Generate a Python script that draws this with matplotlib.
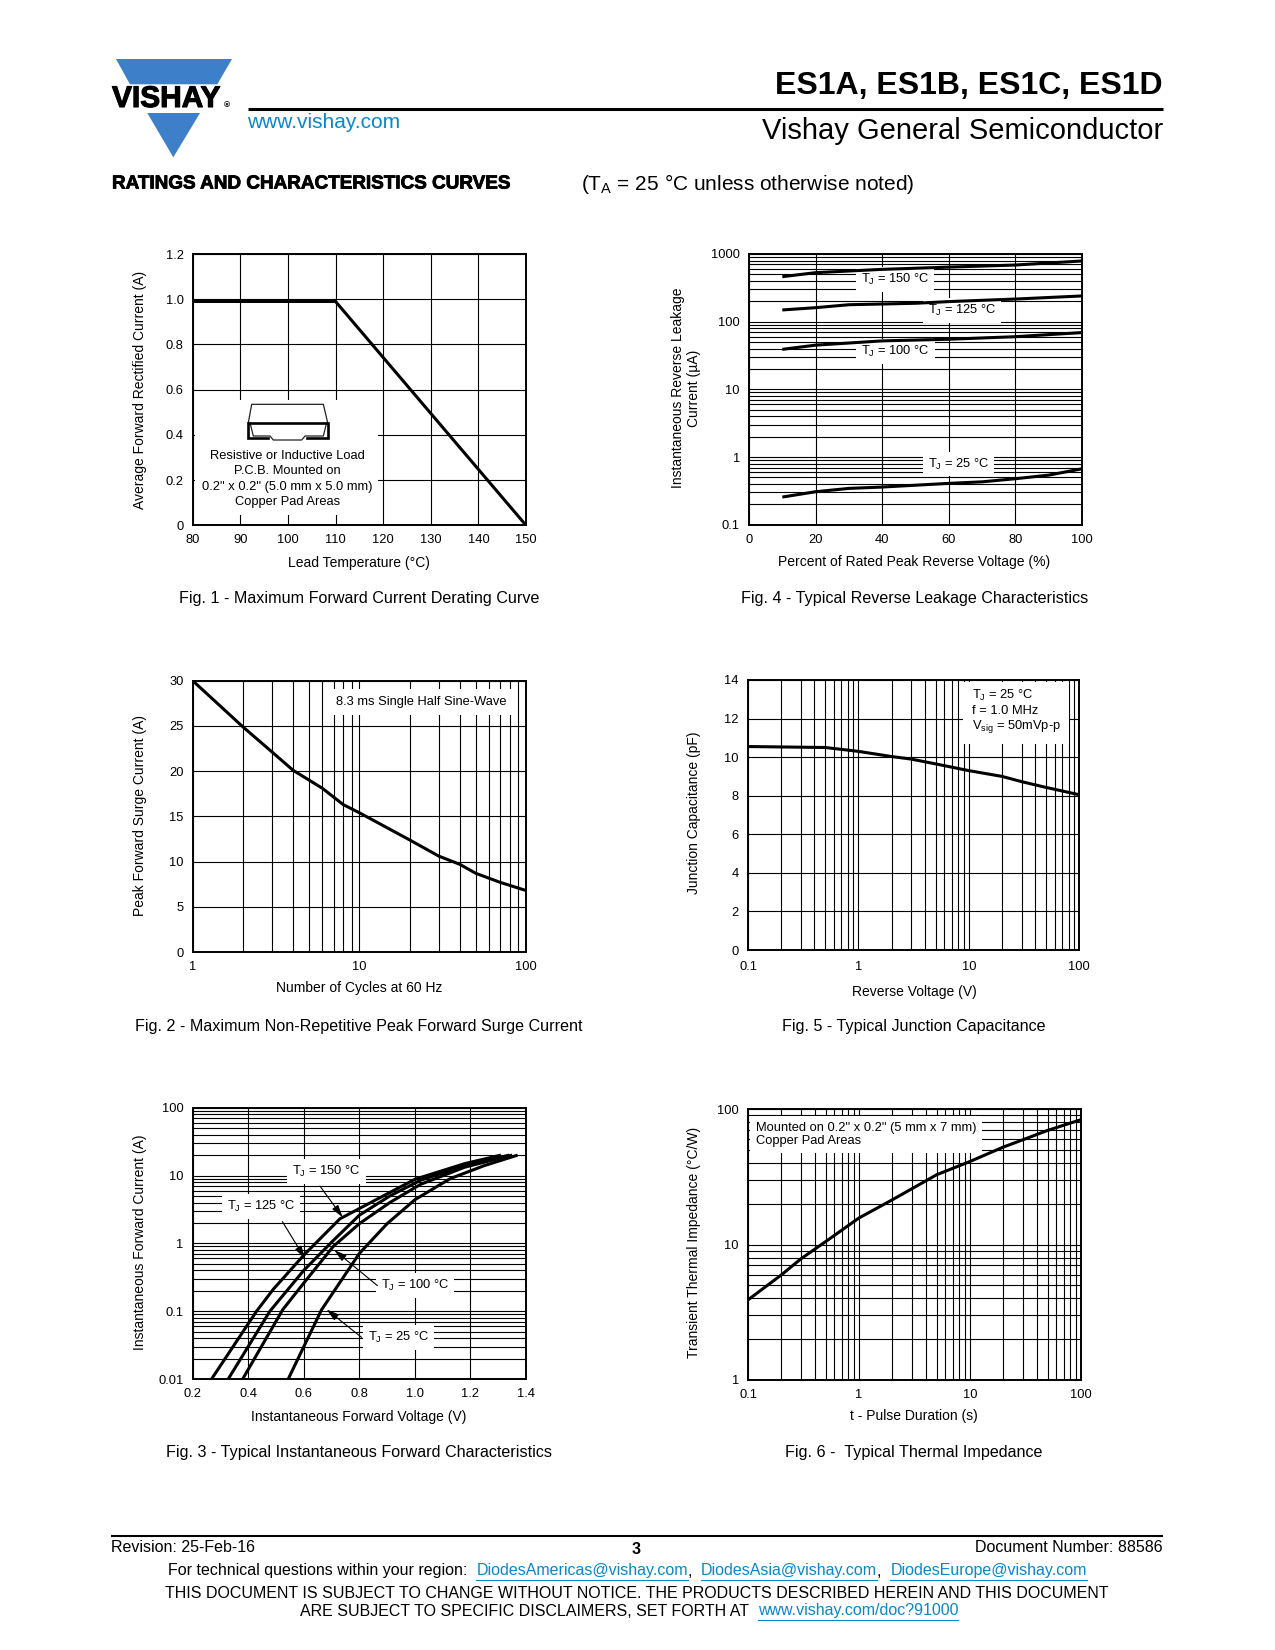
import numpy as np
import matplotlib
matplotlib.use('Agg')
import matplotlib.pyplot as plt
from matplotlib.patches import Polygon, Rectangle
from matplotlib.ticker import LogLocator, NullFormatter
import matplotlib.patheffects as pe

plt.rcParams['font.family'] = ['Liberation Sans', 'DejaVu Sans']
plt.rcParams['mathtext.fontset'] = 'custom'
plt.rcParams['mathtext.rm'] = 'Liberation Sans'
plt.rcParams['mathtext.default'] = 'rm'

W, H = 1275, 1650
BLUE = '#3d7fc8'
LINK = '#0a86cc'

# fig 1
derate_x = [80, 110, 150]
derate_y = [0.99, 0.99, 0]
# fig 2
surge_x = [1, 2, 3, 4, 5, 6, 8, 10, 20, 30, 40, 50, 70, 100]
surge_y = [30, 24.9, 22.1, 20.1, 19.0, 18.1, 16.3, 15.4, 12.4, 10.6, 9.7, 8.7, 7.7, 6.8]
# fig 3
vf_150_x = [0.268, 0.43, 0.49, 0.6, 0.73, 0.886, 1.0, 1.18, 1.31]
vf_150_y = [0.01, 0.1, 0.21, 0.67, 2.3, 5, 8.8, 15, 20]
vf_125_x = [0.328, 0.478, 0.6, 0.706, 0.80, 0.91, 1.02, 1.18, 1.34]
vf_125_y = [0.01, 0.1, 0.40, 1.1, 2.6, 5, 8.5, 14, 20]
vf_100_x = [0.38, 0.524, 0.6, 0.706, 0.80, 0.91, 1.02, 1.18, 1.35]
vf_100_y = [0.01, 0.105, 0.26, 0.9, 1.95, 4, 7.4, 13.3, 20]
vf_25_x = [0.544, 0.6, 0.664, 0.80, 0.9, 1.0, 1.127, 1.25, 1.37]
vf_25_y = [0.01, 0.03, 0.105, 0.71, 1.95, 4.4, 9, 14, 20]
# fig 4
leak_150_x = [10, 20, 40, 60, 80, 100]
leak_150_y = [462, 530, 593, 640, 687, 789]
leak_125_x = [10, 20, 30, 50, 60, 80, 100]
leak_125_y = [149, 161, 178, 187, 198, 216, 240]
leak_100_x = [10, 20, 40, 60, 80, 100]
leak_100_y = [39, 45, 52, 55, 60, 69]
leak_25_x = [10, 20, 30, 40, 60, 70, 80, 90, 100]
leak_25_y = [0.256, 0.307, 0.344, 0.36, 0.408, 0.43, 0.478, 0.54, 0.67]
# fig 5
cap_x = [0.1, 0.5, 1, 2, 3, 5, 10, 20, 30, 50, 100]
cap_y = [10.55, 10.5, 10.3, 10.03, 9.9, 9.65, 9.3, 9.0, 8.73, 8.43, 8.05]
# fig 6
therm_x = [0.1, 0.2, 0.3, 0.5, 1, 2, 3, 5, 10, 20, 30, 50, 100]
therm_y = [3.9, 5.97, 7.84, 10.5, 15.7, 21.4, 25.8, 32.7, 41, 52.4, 59.3, 69.5, 83.4]

fig = plt.figure(figsize=(W / 100, H / 100), dpi=100)
page = fig.add_axes([0, 0, 1, 1], zorder=5)
page.set_xlim(0, W)
page.set_ylim(H, 0)
page.axis('off')


def make_axes(left, top, right, bottom):
    ax = fig.add_axes([left / W, 1 - bottom / H, (right - left) / W, (bottom - top) / H], zorder=2)
    ax.set_axisbelow(True)
    for s in ax.spines.values():
        s.set_linewidth(1.4)
        s.set_zorder(6)
    ax.grid(True, which='both', color='black', linewidth=0.8)
    ax.tick_params(which='both', length=0, labelsize=9.3, pad=6.5)
    return ax


def log_axis(axis):
    axis.set_minor_locator(LogLocator(base=10, subs=range(2, 10), numticks=20))
    axis.set_minor_formatter(NullFormatter())


def curve(ax, x, y):
    ax.plot(x, y, color='black', linewidth=2.2, zorder=4, solid_capstyle='butt')


def tag(ax, x, y, s, ha='center', pad=3.5, **kw):
    ax.text(x, y, s, ha=ha, va='center', fontsize=9.3, zorder=3,
            bbox=dict(facecolor='white', edgecolor='none', pad=pad), **kw)


def arrow(ax, tail, head):
    ax.annotate('', xy=head, xytext=tail, zorder=5,
                arrowprops=dict(arrowstyle='-|>,head_length=0.75,head_width=0.22', color='black',
                                linewidth=0.8, shrinkA=0, shrinkB=0))


def label(x, y, s, size=10, **kw):
    kw.setdefault('ha', 'center')
    kw.setdefault('va', 'center')
    return page.text(x, y, s, fontsize=size, **kw)


def runs(x, y, parts, size):
    # text pieces one after the other, some of them underlined links
    r = fig.canvas.get_renderer()
    for s, link in parts:
        t = page.text(x, y, s, fontsize=size, va='center', ha='left', color=LINK if link else 'black')
        w = t.get_window_extent(r).width
        if s.endswith(' '):
            w += size * 0.278 * 100 / 72
        if link:
            page.plot([x, x + w], [y + 8.5, y + 8.5], color=LINK, linewidth=0.8)
        x += w


# fig 1
ax1 = make_axes(192.7, 254, 526, 525.3)
curve(ax1, derate_x, derate_y)
ax1.set_xlim(80, 150)
ax1.set_ylim(0, 1.2)
ax1.set_xticks(range(80, 151, 10))
ax1.set_yticks([0, 0.2, 0.4, 0.6, 0.8, 1.0, 1.2], ['0', '0.2', '0.4', '0.6', '0.8', '1.0', '1.2'])

page.add_patch(Rectangle((195, 400), 183, 115, facecolor='white', edgecolor='none', zorder=1))


def z1(points):
    return [(100 + a / 3, 230 + b / 3) for a, b in points]


page.plot(*zip(*z1([(445, 578), (455, 523), (670, 523), (683, 578)])), color='#222222', lw=0.9, zorder=2)
page.plot(*zip(*z1([(450, 578), (460, 618), (510, 618), (520, 630), (605, 630), (615, 618), (670, 618), (680, 578)])),
          color='#222222', lw=0.9, zorder=2)
page.plot(*zip(*z1([(505, 625), (445, 625), (445, 578), (683, 578), (683, 625), (622, 625)])),
          color='black', lw=1.9, zorder=2, solid_joinstyle='miter')
for yy, s in zip([456, 471, 487, 502], ['Resistive or Inductive Load', 'P.C.B. Mounted on',
                                        '0.2" x 0.2" (5.0 mm x 5.0 mm)', 'Copper Pad Areas']):
    label(287.5, yy, s, size=9.3, zorder=3)

# fig 2
ax2 = make_axes(192.7, 680.7, 526, 952)
curve(ax2, surge_x, surge_y)
ax2.set_xscale('log')
ax2.set_xlim(1, 100)
ax2.set_ylim(0, 30)
log_axis(ax2.xaxis)
ax2.set_xticks([1, 10, 100], ['1', '10', '100'])
ax2.set_yticks(range(0, 31, 5))
tag(ax2, 23.6, 27.6, '8.3 ms Single Half Sine-Wave', pad=5)

# fig 3
ax3 = make_axes(192.7, 1107.7, 526, 1379)
for x, y in [(vf_150_x, vf_150_y), (vf_125_x, vf_125_y), (vf_100_x, vf_100_y), (vf_25_x, vf_25_y)]:
    curve(ax3, x, y)
ax3.set_yscale('log')
ax3.set_xlim(0.2, 1.4)
ax3.set_ylim(0.01, 100)
log_axis(ax3.yaxis)
ax3.set_xticks([0.2, 0.4, 0.6, 0.8, 1.0, 1.2, 1.4], ['0.2', '0.4', '0.6', '0.8', '1.0', '1.2', '1.4'])
ax3.set_yticks([0.01, 0.1, 1, 10, 100], ['0.01', '0.1', '1', '10', '100'])
tag(ax3, 0.682, 11.6, r'T$_{\mathrm{J}}$ = 150 °C')
tag(ax3, 0.446, 3.47, r'T$_{\mathrm{J}}$ = 125 °C')
tag(ax3, 1.0, 0.238, r'T$_{\mathrm{J}}$ = 100 °C')
tag(ax3, 0.94, 0.0411, r'T$_{\mathrm{J}}$ = 25 °C')
arrow(ax3, (0.658, 7.0), (0.74, 2.42))
arrow(ax3, (0.523, 2.09), (0.604, 0.60))
arrow(ax3, (0.865, 0.238), (0.71, 0.795))
arrow(ax3, (0.808, 0.0411), (0.682, 0.106))

# fig 4
ax4 = make_axes(749, 254, 1082, 524.7)
for x, y in [(leak_150_x, leak_150_y), (leak_125_x, leak_125_y), (leak_100_x, leak_100_y), (leak_25_x, leak_25_y)]:
    curve(ax4, x, y)
ax4.set_yscale('log')
ax4.set_xlim(0, 100)
ax4.set_ylim(0.1, 1000)
log_axis(ax4.yaxis)
ax4.set_xticks(range(0, 101, 20))
ax4.set_yticks([0.1, 1, 10, 100, 1000], ['0.1', '1', '10', '100', '1000'])
tag(ax4, 43.8, 423, r'T$_{\mathrm{J}}$ = 150 °C')
tag(ax4, 63.9, 145.5, r'T$_{\mathrm{J}}$ = 125 °C')
tag(ax4, 44, 36, r'T$_{\mathrm{J}}$ = 100 °C')
tag(ax4, 62.9, 0.788, r'T$_{\mathrm{J}}$ = 25 °C')

# fig 5
ax5 = make_axes(748, 680, 1079.3, 950)
curve(ax5, cap_x, cap_y)
ax5.set_xscale('log')
ax5.set_xlim(0.1, 100)
ax5.set_ylim(0, 14)
log_axis(ax5.xaxis)
ax5.set_xticks([0.1, 1, 10, 100], ['0.1', '1', '10', '100'])
ax5.set_yticks(range(0, 15, 2))
ax5.tick_params(axis='x', pad=8)
tag(ax5, 10.6, 12.36, 'T$_{\\mathrm{J}}$ = 25 °C\nf = 1.0 MHz\nV$_{\\mathrm{sig}}$ = 50mVp-p', ha='left', pad=6, linespacing=1.15)

# fig 6
ax6 = make_axes(748, 1109, 1081, 1380)
curve(ax6, therm_x, therm_y)
ax6.set_xscale('log')
ax6.set_yscale('log')
ax6.set_xlim(0.1, 100)
ax6.set_ylim(1, 100)
log_axis(ax6.xaxis)
log_axis(ax6.yaxis)
ax6.set_xticks([0.1, 1, 10, 100], ['0.1', '1', '10', '100'])
ax6.set_yticks([1, 10, 100], ['1', '10', '100'])
tag(ax6, 0.117, 64.6, 'Mounted on 0.2" x 0.2" (5 mm x 7 mm)\nCopper Pad Areas', ha='left', pad=4, linespacing=1.15)

# axis titles and captions
label(359, 563, 'Lead Temperature (°C)')
label(140, 390, 'Average Forward Rectified Current (A)', rotation=90)
label(359, 598, 'Fig. 1 - Maximum Forward Current Derating Curve', size=11.6)
label(914, 562, 'Percent of Rated Peak Reverse Voltage (%)')
label(686, 388, 'Instantaneous Reverse Leakage\nCurrent (µA)', rotation=90, linespacing=1.15)
label(915, 598, 'Fig. 4 - Typical Reverse Leakage Characteristics', size=11.6)
label(359, 988, 'Number of Cycles at 60 Hz')
label(140, 815, 'Peak Forward Surge Current (A)', rotation=90)
label(359, 1026, 'Fig. 2 - Maximum Non-Repetitive Peak Forward Surge Current', size=11.6)
label(914, 992, 'Reverse Voltage (V)')
label(694, 813, 'Junction Capacitance (pF)', rotation=90)
label(914, 1026, 'Fig. 5 - Typical Junction Capacitance', size=11.6)
label(359, 1417, 'Instantaneous Forward Voltage (V)')
label(140, 1242, 'Instantaneous Forward Current (A)', rotation=90)
label(359, 1453, 'Fig. 3 - Typical Instantaneous Forward Characteristics', size=11.6)
label(914, 1416, 't - Pulse Duration (s)')
label(694, 1242, 'Transient Thermal Impedance (°C/W)', rotation=90)
label(914, 1453, 'Fig. 6 -  Typical Thermal Impedance', size=11.6)

# logo and header
page.add_patch(Polygon([(116, 59), (232, 59), (217.3, 84.3), (130, 84.3)], facecolor=BLUE, edgecolor='none'))
page.add_patch(Polygon([(147.3, 113), (200, 113), (173.3, 157.3)], facecolor=BLUE, edgecolor='none'))
label(112, 99, 'VISHAY', size=21.5, ha='left', fontweight='bold',
      path_effects=[pe.withStroke(linewidth=0.8, foreground='black')])
label(227, 106, '®', size=6, fontweight='bold')
page.plot([247.7, 1163], [109, 109], color='black', linewidth=2.2, solid_capstyle='butt')
label(247, 122, 'www.vishay.com', size=15, ha='left', color=LINK)
label(1163, 86, 'ES1A, ES1B, ES1C, ES1D', size=23, ha='right', fontweight='bold')
label(1163, 131, 'Vishay General Semiconductor', size=21, ha='right')
label(112, 184, 'RATINGS AND CHARACTERISTICS CURVES', size=13.6, ha='left', fontweight='bold',
      path_effects=[pe.withStroke(linewidth=0.6, foreground='black')])
label(581, 184, '(T$_{\\mathrm{A}}$ = 25 °C unless otherwise noted)', size=15, ha='left')

# footer
page.plot([111, 1163], [1536, 1536], color='black', linewidth=1.5, solid_capstyle='butt')
label(111, 1548, 'Revision: 25-Feb-16', size=11.5, ha='left')
label(636, 1550, '3', size=11.5, fontweight='bold')
label(1163, 1548, 'Document Number: 88586', size=11.5, ha='right')
runs(168, 1571, [('For technical questions within your region: ', False), ('DiodesAmericas@vishay.com', True), (', ', False),
                 ('DiodesAsia@vishay.com', True), (', ', False), ('DiodesEurope@vishay.com', True)], 11.5)
label(636.5, 1594, 'THIS DOCUMENT IS SUBJECT TO CHANGE WITHOUT NOTICE. THE PRODUCTS DESCRIBED HEREIN AND THIS DOCUMENT', size=11.5)
runs(300, 1611, [('ARE SUBJECT TO SPECIFIC DISCLAIMERS, SET FORTH AT ', False), ('www.vishay.com/doc?91000', True)], 11.5)

fig.savefig('out.png', dpi=100)
